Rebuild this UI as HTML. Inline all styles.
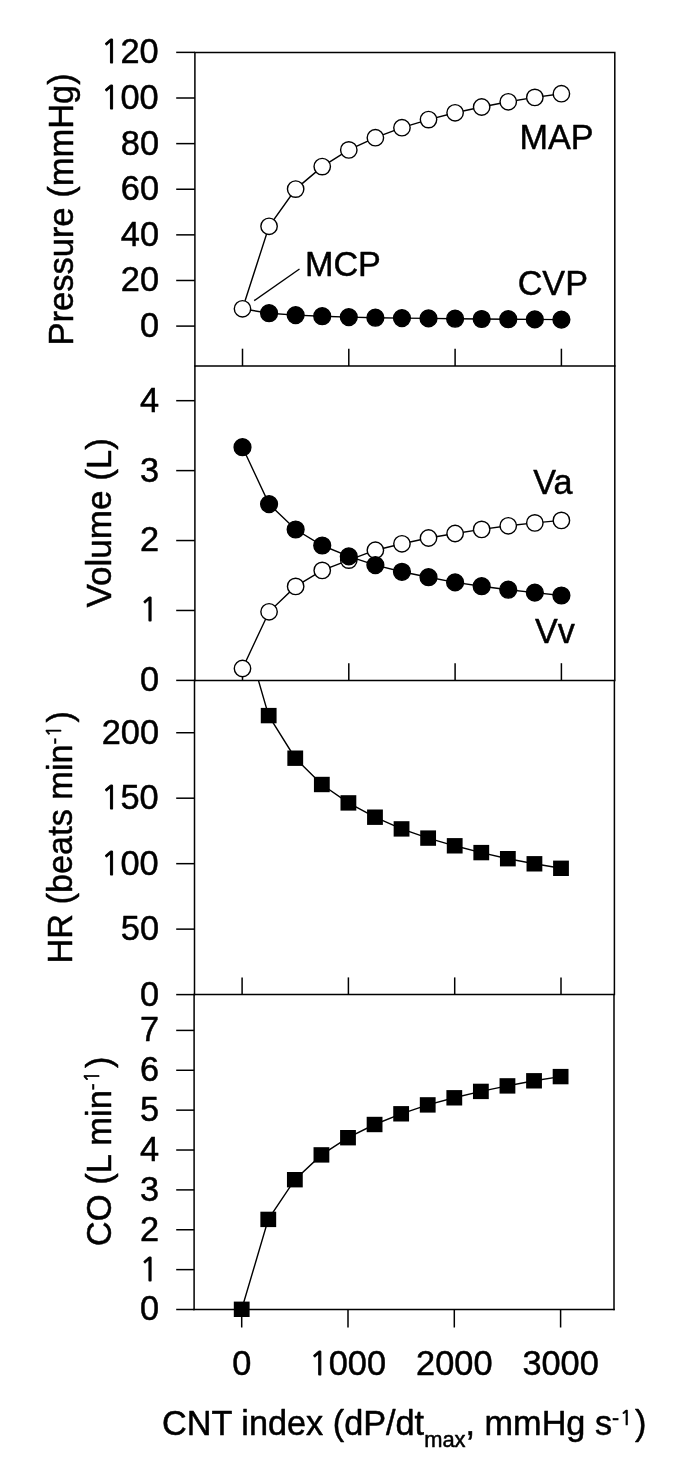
<!DOCTYPE html>
<html lang="en"><head><meta charset="utf-8"><title>CNT index figure</title>
<style>html,body{margin:0;padding:0;background:#fff;overflow:hidden}svg{display:block}</style></head>
<body>
<svg width="685" height="1479" viewBox="0 0 685 1479" role="img" aria-label="Effect of CNT index on pressure, volume, heart rate and cardiac output">
<rect width="685" height="1479" fill="#fff"/>
<g fill="none" stroke="#000" stroke-width="1.5" stroke-linecap="butt">
<path d="M194.90 365.9V52.4H614.80V365.9" stroke-linecap="square"/>
<path d="M194.90 680.4V365.9H614.80V680.4" stroke-linecap="square"/>
<path d="M194.50 994.6V680.4H614.40V994.6" stroke-linecap="square"/>
<path d="M194.10 1309.5V994.6H614.00V1309.5" stroke-linecap="square"/>
<path d="M194.10 1309.5H614.00" stroke-linecap="square"/>
<path d="M176.20 326.10H194.90"/>
<path d="M176.20 280.48H194.90"/>
<path d="M176.20 234.86H194.90"/>
<path d="M176.20 189.24H194.90"/>
<path d="M176.20 143.62H194.90"/>
<path d="M176.20 98.00H194.90"/>
<path d="M176.20 52.38H194.90"/>
<path d="M176.20 680.40H194.90"/>
<path d="M176.20 610.47H194.90"/>
<path d="M176.20 540.54H194.90"/>
<path d="M176.20 470.61H194.90"/>
<path d="M176.20 400.68H194.90"/>
<path d="M176.20 994.60H194.50"/>
<path d="M176.20 929.13H194.50"/>
<path d="M176.20 863.66H194.50"/>
<path d="M176.20 798.19H194.50"/>
<path d="M176.20 732.72H194.50"/>
<path d="M176.20 1309.50H194.10"/>
<path d="M176.20 1269.63H194.10"/>
<path d="M176.20 1229.76H194.10"/>
<path d="M176.20 1189.89H194.10"/>
<path d="M176.20 1150.02H194.10"/>
<path d="M176.20 1110.15H194.10"/>
<path d="M176.20 1070.28H194.10"/>
<path d="M176.20 1030.41H194.10"/>
<path d="M242.50 365.9v-17.2"/>
<path d="M242.50 680.4v-17.2"/>
<path d="M242.10 994.6v-17.2"/>
<path d="M241.70 1309.5v18"/>
<path d="M348.80 365.9v-17.2"/>
<path d="M348.80 680.4v-17.2"/>
<path d="M348.40 994.6v-17.2"/>
<path d="M348.00 1309.5v18"/>
<path d="M455.10 365.9v-17.2"/>
<path d="M455.10 680.4v-17.2"/>
<path d="M454.70 994.6v-17.2"/>
<path d="M454.30 1309.5v18"/>
<path d="M561.40 365.9v-17.2"/>
<path d="M561.40 680.4v-17.2"/>
<path d="M561.00 994.6v-17.2"/>
<path d="M560.60 1309.5v18"/>
</g>
<polyline points="242.50,308.8 269.07,226.3 295.65,189.1 322.23,166.6 348.80,149.9 375.38,137.7 401.95,127.7 428.52,119.6 455.10,112.8 481.67,107.0 508.25,101.8 534.83,97.4 561.40,93.7" fill="none" stroke="#000" stroke-width="1.4"/>
<polyline points="242.50,308.8 269.07,313.2 295.65,315.1 322.23,316.2 348.80,317.1 375.38,317.7 401.95,318.1 428.52,318.4 455.10,318.7 481.67,319.0 508.25,319.2 534.83,319.4 561.40,319.6" fill="none" stroke="#000" stroke-width="1.4"/>
<g fill="#000" stroke="#000" stroke-width="1.4"><circle cx="269.07" cy="313.2" r="8.399999999999999"/><circle cx="295.65" cy="315.1" r="8.399999999999999"/><circle cx="322.23" cy="316.2" r="8.399999999999999"/><circle cx="348.80" cy="317.1" r="8.399999999999999"/><circle cx="375.38" cy="317.7" r="8.399999999999999"/><circle cx="401.95" cy="318.1" r="8.399999999999999"/><circle cx="428.52" cy="318.4" r="8.399999999999999"/><circle cx="455.10" cy="318.7" r="8.399999999999999"/><circle cx="481.67" cy="319.0" r="8.399999999999999"/><circle cx="508.25" cy="319.2" r="8.399999999999999"/><circle cx="534.83" cy="319.4" r="8.399999999999999"/><circle cx="561.40" cy="319.6" r="8.399999999999999"/></g>
<g fill="#fff" stroke="#000" stroke-width="1.4"><circle cx="242.50" cy="308.8" r="8.2"/><circle cx="269.07" cy="226.3" r="8.2"/><circle cx="295.65" cy="189.1" r="8.2"/><circle cx="322.23" cy="166.6" r="8.2"/><circle cx="348.80" cy="149.9" r="8.2"/><circle cx="375.38" cy="137.7" r="8.2"/><circle cx="401.95" cy="127.7" r="8.2"/><circle cx="428.52" cy="119.6" r="8.2"/><circle cx="455.10" cy="112.8" r="8.2"/><circle cx="481.67" cy="107.0" r="8.2"/><circle cx="508.25" cy="101.8" r="8.2"/><circle cx="534.83" cy="97.4" r="8.2"/><circle cx="561.40" cy="93.7" r="8.2"/></g>
<path d="M254.2 300.6L299.5 269" stroke="#000" stroke-width="1.4" fill="none"/>
<polyline points="242.50,668.5 269.07,611.8 295.65,586.4 322.23,570.4 348.80,560.1 375.38,550.2 401.95,543.8 428.52,538.0 455.10,533.5 481.67,529.4 508.25,525.8 534.83,522.9 561.40,520.4" fill="none" stroke="#000" stroke-width="1.4"/>
<g fill="#fff" stroke="#000" stroke-width="1.4"><circle cx="242.50" cy="668.5" r="8.2"/><circle cx="269.07" cy="611.8" r="8.2"/><circle cx="295.65" cy="586.4" r="8.2"/><circle cx="322.23" cy="570.4" r="8.2"/><circle cx="348.80" cy="560.1" r="8.2"/><circle cx="375.38" cy="550.2" r="8.2"/><circle cx="401.95" cy="543.8" r="8.2"/><circle cx="428.52" cy="538.0" r="8.2"/><circle cx="455.10" cy="533.5" r="8.2"/><circle cx="481.67" cy="529.4" r="8.2"/><circle cx="508.25" cy="525.8" r="8.2"/><circle cx="534.83" cy="522.9" r="8.2"/><circle cx="561.40" cy="520.4" r="8.2"/></g>
<polyline points="242.50,447.2 269.07,504.1 295.65,529.5 322.23,545.5 348.80,556.4 375.38,565.1 401.95,571.8 428.52,577.2 455.10,582.4 481.67,586.2 508.25,589.7 534.83,592.6 561.40,595.5" fill="none" stroke="#000" stroke-width="1.4"/>
<g fill="#000" stroke="#000" stroke-width="1.4"><circle cx="242.50" cy="447.2" r="8.399999999999999"/><circle cx="269.07" cy="504.1" r="8.399999999999999"/><circle cx="295.65" cy="529.5" r="8.399999999999999"/><circle cx="322.23" cy="545.5" r="8.399999999999999"/><circle cx="348.80" cy="556.4" r="8.399999999999999"/><circle cx="375.38" cy="565.1" r="8.399999999999999"/><circle cx="401.95" cy="571.8" r="8.399999999999999"/><circle cx="428.52" cy="577.2" r="8.399999999999999"/><circle cx="455.10" cy="582.4" r="8.399999999999999"/><circle cx="481.67" cy="586.2" r="8.399999999999999"/><circle cx="508.25" cy="589.7" r="8.399999999999999"/><circle cx="534.83" cy="592.6" r="8.399999999999999"/><circle cx="561.40" cy="595.5" r="8.399999999999999"/></g>
<clipPath id="c3"><rect x="194.9" y="680.4" width="419.9" height="314.20000000000005"/></clipPath>
<g clip-path="url(#c3)" transform="translate(-0.4 0)"><polyline points="242.50,624.3 269.07,715.6 295.65,758.2 322.23,784.5 348.80,802.9 375.38,817.2 401.95,828.9 428.52,838.1 455.10,845.8 481.67,852.6 508.25,858.7 534.83,863.8 561.40,868.3" fill="none" stroke="#000" stroke-width="1.4"/></g>
<g fill="#000"><rect x="260.78" y="707.90" width="15.8" height="15.4"/><rect x="287.35" y="750.50" width="15.8" height="15.4"/><rect x="313.93" y="776.80" width="15.8" height="15.4"/><rect x="340.50" y="795.20" width="15.8" height="15.4"/><rect x="367.08" y="809.50" width="15.8" height="15.4"/><rect x="393.65" y="821.20" width="15.8" height="15.4"/><rect x="420.23" y="830.40" width="15.8" height="15.4"/><rect x="446.80" y="838.10" width="15.8" height="15.4"/><rect x="473.38" y="844.90" width="15.8" height="15.4"/><rect x="499.95" y="851.00" width="15.8" height="15.4"/><rect x="526.53" y="856.10" width="15.8" height="15.4"/><rect x="553.10" y="860.60" width="15.8" height="15.4"/></g>
<g transform="translate(-0.8 0)"><polyline points="242.50,1309.3 269.07,1219.4 295.65,1179.7 322.23,1154.9 348.80,1137.7 375.38,1124.5 401.95,1113.8 428.52,1104.9 455.10,1097.8 481.67,1091.4 508.25,1085.9 534.83,1080.8 561.40,1076.6" fill="none" stroke="#000" stroke-width="1.4"/></g>
<g fill="#000"><rect x="233.80" y="1301.60" width="15.8" height="15.4"/><rect x="260.38" y="1211.70" width="15.8" height="15.4"/><rect x="286.95" y="1172.00" width="15.8" height="15.4"/><rect x="313.53" y="1147.20" width="15.8" height="15.4"/><rect x="340.10" y="1130.00" width="15.8" height="15.4"/><rect x="366.68" y="1116.80" width="15.8" height="15.4"/><rect x="393.25" y="1106.10" width="15.8" height="15.4"/><rect x="419.82" y="1097.20" width="15.8" height="15.4"/><rect x="446.40" y="1090.10" width="15.8" height="15.4"/><rect x="472.97" y="1083.70" width="15.8" height="15.4"/><rect x="499.55" y="1078.20" width="15.8" height="15.4"/><rect x="526.13" y="1073.10" width="15.8" height="15.4"/><rect x="552.70" y="1068.90" width="15.8" height="15.4"/></g>
<g font-family="'Liberation Sans', Arial, Helvetica, sans-serif" fill="#000" stroke="#000" stroke-width="0.5" stroke-linejoin="round">
<text transform="translate(159.0 337.0) scale(0.968 1)" font-size="35.5" text-anchor="end">0</text>
<text transform="translate(159.0 291.38) scale(0.968 1)" font-size="35.5" text-anchor="end">20</text>
<text transform="translate(159.0 245.76000000000002) scale(0.968 1)" font-size="35.5" text-anchor="end">40</text>
<text transform="translate(159.0 200.14000000000004) scale(0.968 1)" font-size="35.5" text-anchor="end">60</text>
<text transform="translate(159.0 154.52000000000004) scale(0.968 1)" font-size="35.5" text-anchor="end">80</text>
<text transform="translate(159.0 108.90000000000003) scale(0.968 1)" font-size="35.5" text-anchor="end"><tspan font-family="NanumGothic, 'Liberation Sans', sans-serif" font-size="32.5" stroke-width="1.0" dx="-0.4">1</tspan><tspan dx="0.4">0</tspan>0</text>
<text transform="translate(159.0 63.28000000000005) scale(0.968 1)" font-size="35.5" text-anchor="end"><tspan font-family="NanumGothic, 'Liberation Sans', sans-serif" font-size="32.5" stroke-width="1.0" dx="-0.4">1</tspan><tspan dx="0.4">2</tspan>0</text>
<text transform="translate(159.0 691.3) scale(0.968 1)" font-size="35.5" text-anchor="end">0</text>
<text transform="translate(159.0 621.37) scale(0.968 1)" font-size="35.5" text-anchor="end"><tspan font-family="NanumGothic, 'Liberation Sans', sans-serif" font-size="32.5" stroke-width="1.0" dx="-0.4">1</tspan></text>
<text transform="translate(159.0 551.4399999999999) scale(0.968 1)" font-size="35.5" text-anchor="end">2</text>
<text transform="translate(159.0 481.50999999999993) scale(0.968 1)" font-size="35.5" text-anchor="end">3</text>
<text transform="translate(159.0 411.5799999999999) scale(0.968 1)" font-size="35.5" text-anchor="end">4</text>
<text transform="translate(159.0 1005.5) scale(0.968 1)" font-size="35.5" text-anchor="end">0</text>
<text transform="translate(159.0 940.03) scale(0.968 1)" font-size="35.5" text-anchor="end">50</text>
<text transform="translate(159.0 874.5600000000001) scale(0.968 1)" font-size="35.5" text-anchor="end"><tspan font-family="NanumGothic, 'Liberation Sans', sans-serif" font-size="32.5" stroke-width="1.0" dx="-0.4">1</tspan><tspan dx="0.4">0</tspan>0</text>
<text transform="translate(159.0 809.09) scale(0.968 1)" font-size="35.5" text-anchor="end"><tspan font-family="NanumGothic, 'Liberation Sans', sans-serif" font-size="32.5" stroke-width="1.0" dx="-0.4">1</tspan><tspan dx="0.4">5</tspan>0</text>
<text transform="translate(159.0 743.62) scale(0.968 1)" font-size="35.5" text-anchor="end">200</text>
<text transform="translate(159.0 1320.4) scale(0.968 1)" font-size="35.5" text-anchor="end">0</text>
<text transform="translate(159.0 1280.5300000000002) scale(0.968 1)" font-size="35.5" text-anchor="end"><tspan font-family="NanumGothic, 'Liberation Sans', sans-serif" font-size="32.5" stroke-width="1.0" dx="-0.4">1</tspan></text>
<text transform="translate(159.0 1240.66) scale(0.968 1)" font-size="35.5" text-anchor="end">2</text>
<text transform="translate(159.0 1200.7900000000002) scale(0.968 1)" font-size="35.5" text-anchor="end">3</text>
<text transform="translate(159.0 1160.92) scale(0.968 1)" font-size="35.5" text-anchor="end">4</text>
<text transform="translate(159.0 1121.0500000000002) scale(0.968 1)" font-size="35.5" text-anchor="end">5</text>
<text transform="translate(159.0 1081.18) scale(0.968 1)" font-size="35.5" text-anchor="end">6</text>
<text transform="translate(159.0 1041.3100000000002) scale(0.968 1)" font-size="35.5" text-anchor="end">7</text>
<text transform="translate(241.7 1375.4) scale(0.968 1)" font-size="35.5" text-anchor="middle">0</text>
<text transform="translate(348.0 1375.4) scale(0.968 1)" font-size="35.5" text-anchor="middle"><tspan font-family="NanumGothic, 'Liberation Sans', sans-serif" font-size="32.5" stroke-width="1.0" dx="-0.4">1</tspan><tspan dx="0.4">0</tspan>00</text>
<text transform="translate(454.3 1375.4) scale(0.968 1)" font-size="35.5" text-anchor="middle">2000</text>
<text transform="translate(560.6 1375.4) scale(0.968 1)" font-size="35.5" text-anchor="middle">3000</text>
<text transform="translate(519.5 148.7) scale(0.982 1)" font-size="34.8" text-anchor="start">MAP</text>
<text transform="translate(305.0 276.1) scale(0.982 1)" font-size="34.8" text-anchor="start">MCP</text>
<text transform="translate(517.7 294.6) scale(0.982 1)" font-size="34.8" text-anchor="start">CVP</text>
<text transform="translate(533.3 494.3) scale(0.982 1)" font-size="34.8" text-anchor="start">Va</text>
<text transform="translate(535.0 642.5) scale(0.982 1)" font-size="34.8" text-anchor="start">Vv</text>
<text transform="translate(72.7 209.4) rotate(-90) scale(0.981 1)" font-size="35.2" text-anchor="middle">Pressure (mmHg)</text>
<text transform="translate(110.6 522.7) rotate(-90) scale(0.996 1)" font-size="35.2" text-anchor="middle">Volume (L)</text>
<text transform="translate(72.4 837.2) rotate(-90) scale(0.974 1)" font-size="35.2" text-anchor="middle">HR (beats min<tspan font-size="20.8" dy="-11.5">-</tspan><tspan font-family="NanumGothic, 'Liberation Sans', sans-serif" font-size="19.6" stroke-width="0.7" dx="0.8">1</tspan><tspan dy="11.5" dx="3">)</tspan></text>
<text transform="translate(110.6 1151.3) rotate(-90) scale(0.981 1)" font-size="35.2" text-anchor="middle">CO (L min<tspan font-size="20.8" dy="-11.5">-</tspan><tspan font-family="NanumGothic, 'Liberation Sans', sans-serif" font-size="19.6" stroke-width="0.7" dx="0.8">1</tspan><tspan dy="11.5" dx="3">)</tspan></text>
<text transform="translate(162.0 1434.8) scale(0.996 1)" font-size="34.4" text-anchor="start">CNT index (dP/dt<tspan font-size="22" dy="11.7">max</tspan><tspan dy="-11.7" dx="0">, mmHg s</tspan><tspan font-size="21.4" dy="-9.6">-</tspan><tspan font-family="NanumGothic, 'Liberation Sans', sans-serif" font-size="20.0" stroke-width="0.7" dx="0.8">1</tspan><tspan dy="9.6" dx="3">)</tspan></text>
</g>
</svg>
</body></html>
